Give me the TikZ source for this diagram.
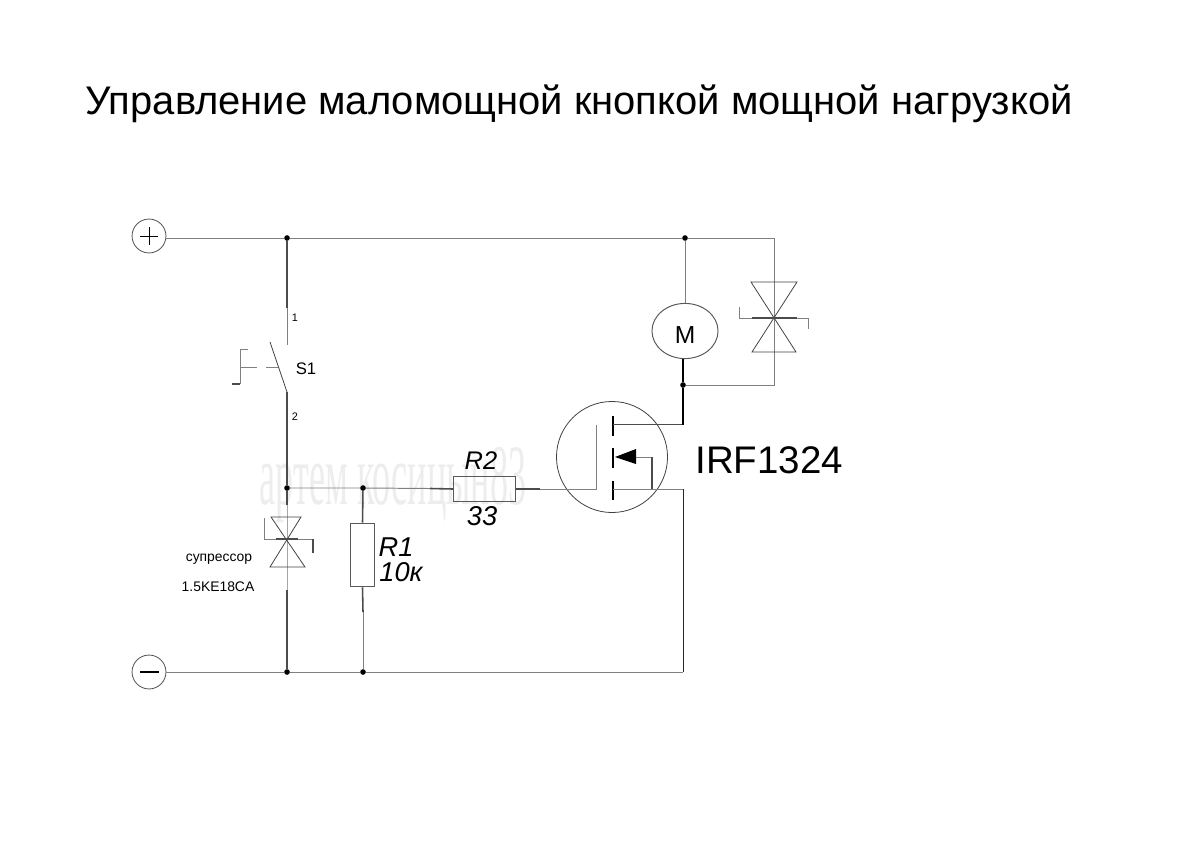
\documentclass[tikz,border=0pt]{standalone}
\usepackage{fontspec}
\setmainfont{Liberation Sans}
\newfontfamily\markfont{Liberation Serif}
\usetikzlibrary{arrows.meta,positioning,calc,shapes.geometric}
\tikzset{
  wire/.style={draw=black!50,line width=0.55pt},
  heavy/.style={draw=black!70,line width=0.9pt},
  thin part/.style={draw=black!75,line width=0.45pt},
  dot/.style={circle,fill=black,inner sep=0pt,minimum size=3.2pt},
  terminal/.style={circle,draw=black!70,line width=0.45pt,inner sep=0pt,minimum size=19.3pt},
  body/.style={rectangle,draw=black!65,line width=0.55pt,inner sep=0pt},
  pin/.style={font=\fontsize{6.2}{7}\selectfont},
  val/.style={font=\fontsize{15.5}{17}\selectfont\itshape},
  small note/.style={font=\fontsize{7.9}{9}\selectfont}
}
\begin{document}
\begin{tikzpicture}[x=0.02cm,y=-0.02cm]
\useasboundingbox (0,0) rectangle (1200,848);
% watermark
\node[text=black!7,font=\fontsize{49}{52}\markfont,inner sep=0pt] (mark) at (393,485) {\scalebox{0.42}[1]{артем косицын83}};
% title
\node[anchor=west,inner sep=0pt,font=\fontsize{22.73}{26}\selectfont] (title) at (85,104) {Управление маломощной кнопкой мощной нагрузкой};
% terminals
\node[terminal] (plus) at (149,236) {};
\node[terminal] (minus) at (149,672) {};
\draw[line width=0.5pt] (140,236) -- (158,236) (149,227) -- (149,245);
\draw[line width=0.9pt] (140,672) -- (159,672);
% junctions
\node[dot] (jtop) at (287,238) {};
\node[dot] (jmotor) at (685,238) {};
\node[dot] (jgate) at (287,488) {};
\node[dot] (jres) at (363,488) {};
\node[dot] (jlow) at (287,672) {};
\node[dot] (jreslow) at (363,672) {};
\node[dot] (jdrain) at (683,385) {};
% parts
\node[body,minimum width=35.4pt,minimum height=13.8pt] (rtwo) at (484.5,489) {};
\node[body,minimum width=14.2pt,minimum height=36.3pt] (rone) at (362.5,555) {};
\node[circle,draw=black!75,line width=0.45pt,inner sep=0pt,minimum size=63.2pt] (fet) at (612,457) {};
\node[ellipse,draw=black!65,line width=0.55pt,inner sep=0pt,minimum width=37.6pt,minimum height=31.4pt] (motor) at (685,331) {};
% rails
\coordinate (cright) at (774,238);
\coordinate (cdrop) at (774,385);
\coordinate (crail) at (683,672);
\coordinate (csource) at (683,489);
\draw[wire] (plus.east |- jtop) -- (jtop) -- (jmotor) -- (cright) -- (cdrop) -- (jdrain);
\draw[wire] (minus) -- (jlow) -- (jreslow) -- (crail);
\draw[line width=0.55pt,draw=black!85] (crail) -- (csource);
% switch
\coordinate (swtop) at (287,345);
\coordinate (swlow) at (287,392);
\draw[heavy] (jtop) -- (287,308);
\draw[wire] (287,308) -- (swtop);
\draw[thin part] (270,342) -- (swlow);
\draw[heavy] (swlow) -- (jgate);
\draw[heavy] (232,384) -- (240,384);
\draw[wire] (240,384) -- (240,349) -- (248,349);
\draw[wire] (240,367) -- (257,367) (266,367) -- (278,367);
\node[pin] (pinone) at (295,318) {1};
\node[pin] (pintwo) at (295,417) {2};
\node[font=\fontsize{9.5}{11}\selectfont] (sone) at (306,369) {S1};
% suppressor at the input
\draw[heavy] (jgate) -- (287,505);
\draw[draw=black!35,line width=0.5pt] (287,505) -- (287,590);
\draw[heavy] (287,590) -- (jlow);
\draw[thin part] (271,517) -- (301,517) -- (270,567) -- (305,567) -- cycle;
\draw[wire] (264,518) -- (264,539) -- (276,539);
\draw[heavy] (276,539) -- (298,539);
\draw[wire] (298,539) -- (313,539);
\draw[heavy] (313,539) -- (313,553);
\node[small note] (suplabel) at (219,559) {супрессор};
\node[small note] (partlabel) at (218,587) {1.5KE18CA};
% resistors
\draw[heavy] (jres) -- (rone.north);
\draw[heavy] (rone.south) -- (363,612);
\draw[wire] (363,612) -- (jreslow);
\draw[wire] (jgate) -- (jres) -- (430,488.5);
\draw[heavy] (430,488.5) -- (rtwo.west);
\node[val] (ronelabel) at (396,547) {R1};
\node[val] (ronevalue) at (401,572) {10к};
\node[val,font=\fontsize{14.5}{16}\selectfont\itshape] (rtwolabel) at (481,461) {R2};
\node[val] (rtwovalue) at (482,516) {33};
% transistor
\coordinate (gate) at (596,489);
\draw[heavy] (rtwo.east) -- (540,489);
\draw[wire] (540,489) -- (gate) -- (596,425);
\draw[line width=1.1pt] (613,416) -- (613,436) (613,448) -- (613,468) (613,481) -- (613,500);
\draw[heavy] (613,424.5) -- (683,424.5);
\draw[line width=0.65pt] (683,424.5) -- (jdrain);
\draw[wire] (613,489) -- (csource);
\fill (615,457) -- (636,449) -- (636,464) -- cycle;
\draw[wire] (636,457) -- (652,457);
\draw[heavy] (652,457) -- (652,489);
\node[font=\fontsize{21.9}{24}\selectfont,anchor=west,inner sep=0pt] (fetlabel) at (695,460) {IRF1324};
% motor
\draw[wire] (jmotor) -- (motor.north);
\draw[line width=0.65pt] (683,359) -- (jdrain);
\node[font=\fontsize{14}{16}\selectfont] (mlabel) at (685,335) {M};
% suppressor at the motor
\draw[thin part] (751,282) -- (797,282) -- (752,352) -- (796,352) -- cycle;
\draw[wire] (739,307) -- (739,318) -- (752,318);
\draw[heavy] (752,318) -- (797,318);
\draw[wire] (797,318) -- (808,318) -- (808,329);
\end{tikzpicture}
\end{document}
